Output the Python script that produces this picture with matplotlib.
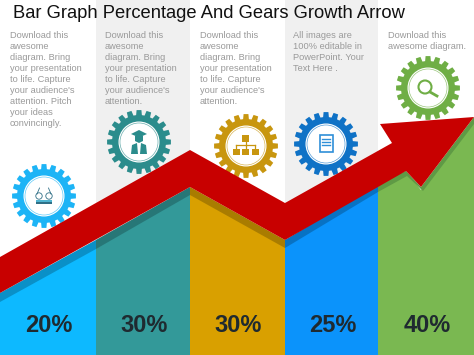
import numpy as np
import matplotlib
matplotlib.use("Agg")
import matplotlib.pyplot as plt
from matplotlib.patches import Circle, Polygon, Rectangle

# === DATA (pixel units, y going down) ===
title = "Bar Graph Percentage And Gears Growth Arrow"
percent_labels = ["20%", "30%", "30%", "25%", "40%"]
bar_colors = ["#0DB9FF", "#339999", "#D9A000", "#0B93FB", "#7AB851"]
gear_colors = ["#1DB4F6", "#2B8C8C", "#C8960F", "#0F72C6", "#6FAE45"]
bar_edges = [0, 96, 190, 285, 378, 474]
# height of the coloured part at each bar edge
bar_tops = [302, 249, 195, 248, 192, 124]
shadow_tops = [293, 240, 187, 240, 184, 118]

arrow_x = [474, 380, 392, 285, 190, 0, 0, 190, 285, 406, 421]
arrow_y = [117, 124, 143, 203, 150, 257, 293, 187, 240, 171, 187]

gear_x = [44, 139, 246, 326, 428]
gear_y = [196, 142, 146, 144, 88]

captions = [
    ["Download this", "awesome", "diagram. Bring", "your presentation", "to life. Capture",
     "your audience's", "attention. Pitch", "your ideas", "convincingly."],
    ["Download this", "awesome", "diagram. Bring", "your presentation", "to life. Capture",
     "your audience's", "attention."],
    ["Download this", "awesome", "diagram. Bring", "your presentation", "to life. Capture",
     "your audience's", "attention."],
    ["All images are", "100% editable in", "PowerPoint. Your", "Text Here ."],
    ["Download this", "awesome diagram."],
]
caption_x = [10, 105, 200, 293, 388]

plt.rcParams["font.family"] = ["Liberation Sans", "DejaVu Sans"]

fig = plt.figure(figsize=(4.74, 3.55), dpi=100)
ax = fig.add_axes([0, 0, 1, 1])
ax.set_xlim(0, 474)
ax.set_ylim(355, 0)
ax.axis("off")


def gear_points(cx, cy, r_root=27, r_tip=32, teeth=20):
    pts = []
    step = 2 * np.pi / teeth
    for i in range(teeth):
        a = i * step
        for da, r in [(-0.34, r_root), (-0.24, r_tip), (0.24, r_tip), (0.34, r_root)]:
            ang = a + da * step
            pts.append((cx + r * np.cos(ang), cy + r * np.sin(ang)))
    return pts


# gray panels behind the captions
for i in [1, 3]:
    ax.add_patch(Rectangle((bar_edges[i], 0), bar_edges[i + 1] - bar_edges[i], 300, color="#F0F0F0", lw=0))

# title and captions
ax.text(13, 14, title, fontsize=13.25, color="#111111", va="center", ha="left")
for x, lines in zip(caption_x, captions):
    for j, line in enumerate(lines):
        ax.text(x, 35 + j * 11.05, line, fontsize=6.7, color="#9A9A9A", va="center", ha="left")

# gears
for cx, cy, c in zip(gear_x, gear_y, gear_colors):
    ax.add_patch(Polygon(gear_points(cx, cy), closed=True, color=c, lw=0))
    ax.add_patch(Circle((cx, cy), 20.5, color="white", lw=0))
    ax.add_patch(Circle((cx, cy), 19, fill=False, ec=c, lw=0.5, alpha=0.7))

# icon 1, glasses on a book
ic = "#2F6F86"
cx, cy = gear_x[0], gear_y[0]
ax.add_patch(Circle((cx - 5, cy), 3.2, fill=False, ec=ic, lw=0.6))
ax.add_patch(Circle((cx + 5, cy), 3.2, fill=False, ec=ic, lw=0.6))
ax.plot([cx - 7, cx - 4.5], [cy - 2, cy - 8], color=ic, lw=0.6)
ax.plot([cx + 7, cx + 4.5], [cy - 2, cy - 8], color=ic, lw=0.6)
ax.add_patch(Rectangle((cx - 8, cy + 4), 16, 1.8, color="#4FB4D0", lw=0))
ax.add_patch(Rectangle((cx - 8, cy + 6), 16, 2.2, color=ic, lw=0))

# icon 2, graduate
ic = gear_colors[1]
cx, cy = gear_x[1], gear_y[1]
ax.add_patch(Polygon([(cx - 8, cy - 8), (cx, cy - 12), (cx + 8, cy - 8), (cx, cy - 4.5)], color=ic, lw=0))
ax.add_patch(Polygon([(cx - 4, cy - 6), (cx + 4, cy - 6), (cx + 4, cy - 1), (cx, cy + 1), (cx - 4, cy - 1)], color=ic, lw=0))
ax.add_patch(Polygon([(cx - 8, cy + 12), (cx - 7, cy + 3), (cx - 2, cy + 1), (cx - 1, cy + 12)], color=ic, lw=0))
ax.add_patch(Polygon([(cx + 8, cy + 12), (cx + 7, cy + 3), (cx + 2, cy + 1), (cx + 1, cy + 12)], color=ic, lw=0))

# icon 3, org chart
ic = gear_colors[2]
cx, cy = gear_x[2], gear_y[2]
ax.add_patch(Rectangle((cx - 3.5, cy - 11), 7, 7, color=ic, lw=0))
for dx in [-9.5, 0, 9.5]:
    ax.add_patch(Rectangle((cx + dx - 3.5, cy + 3), 7, 6, color=ic, lw=0))
    ax.plot([cx + dx, cx + dx], [cy - 1, cy + 3], color=ic, lw=0.9)
ax.plot([cx - 9.5, cx + 9.5], [cy - 1, cy - 1], color=ic, lw=0.9)
ax.plot([cx, cx], [cy - 5, cy - 1], color=ic, lw=0.9)

# icon 4, document
ic = "#2F8FD8"
cx, cy = gear_x[3], gear_y[3]
ax.add_patch(Rectangle((cx - 6, cy - 9), 13, 17, fill=False, ec=ic, lw=1.2))
for dy in [-5.5, -2.5, 0.5]:
    ax.plot([cx - 3.5, cx + 4.5], [cy + dy, cy + dy], color=ic, lw=1.0)

# icon 5, magnifier
ic = gear_colors[4]
cx, cy = gear_x[4], gear_y[4]
ax.add_patch(Circle((cx - 3, cy - 1), 6.5, fill=False, ec=ic, lw=1.5))
ax.plot([cx + 2, cx + 9], [cy + 4, cy + 8], color=ic, lw=2.0)

# bars, dark band on top of each is the arrow shadow
for i in range(5):
    x0, x1 = bar_edges[i], bar_edges[i + 1]
    if i == 4:
        ax.fill([x0, 406, 421, 474, 474, x0], [shadow_tops[i], 171, 190, shadow_tops[5], 355, 355],
                color=bar_colors[i], lw=0)
        ax.fill([x0, 406, 421, 474, 474, 423, 407, x0],
                [shadow_tops[i], 171, 187, 117, bar_tops[5], 191, 176, bar_tops[i]],
                color="#5F9A45", lw=0)
    else:
        ax.fill([x0, x1, x1, x0], [shadow_tops[i], shadow_tops[i + 1], 355, 355], color=bar_colors[i], lw=0)
        ax.fill([x0, x1, x1, x0], [shadow_tops[i], shadow_tops[i + 1], bar_tops[i + 1], bar_tops[i]],
                color="black", alpha=0.22, lw=0)
    ax.text((x0 + x1) / 2 + 1, 325, percent_labels[i], fontsize=17, fontweight="bold",
            color="#1F2A30", ha="center", va="center")

# growth arrow
ax.fill(arrow_x, arrow_y, color="#C80000", lw=0)

fig.savefig("out.png", dpi=100)
plt.close(fig)
